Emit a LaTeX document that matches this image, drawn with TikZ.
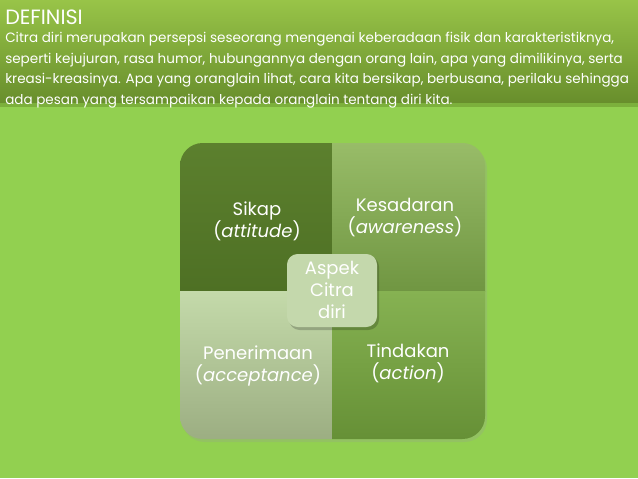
\documentclass[tikz,border=0pt]{standalone}
\usepackage{fontspec}
\setmainfont{Poppins}
\usetikzlibrary{positioning,shadows}
\definecolor{slidegreen}{RGB}{146,208,80}
\definecolor{headtop}{RGB}{152,196,72}
\definecolor{headbottom}{RGB}{104,142,44}
\definecolor{headedge}{RGB}{124,176,60}
\definecolor{sikaptop}{RGB}{92,128,46}
\definecolor{sikapbottom}{RGB}{78,112,36}
\definecolor{sadartop}{RGB}{152,188,104}
\definecolor{sadarbottom}{RGB}{112,150,66}
\definecolor{terimatop}{RGB}{196,218,170}
\definecolor{terimabottom}{RGB}{156,174,130}
\definecolor{tindaktop}{RGB}{134,178,82}
\definecolor{tindakbottom}{RGB}{102,144,54}
\definecolor{aspekfill}{RGB}{196,216,172}
\newcommand{\aspekcell}[6]{%
  \shade[top color=#5, bottom color=#6] (#1,#2) rectangle (#3,#4);}
\tikzset{
  celltext/.style={text=white, align=center, font=\fontsize{13.5}{16.5}\selectfont},
}

\begin{document}
\begin{tikzpicture}[x=0.75pt, y=-0.75pt]
  \useasboundingbox (0,0) rectangle (638,478);
  \fill[slidegreen] (0,0) rectangle (638,478);
  \shade[top color=headtop, bottom color=headbottom] (0,0) rectangle (638,103);
  \fill[headedge] (0,103) rectangle (638,107);
  \node[anchor=base west, text=white, inner sep=0pt, font=\fontsize{15.5}{18}\selectfont]
    (judul) at (5,25) {DEFINISI};
  \node[anchor=north west, text=white, inner sep=0pt, align=left,
        font=\fontsize{10.15}{15.4}\selectfont] (isi) at (5,32)
    {Citra diri merupakan persepsi seseorang mengenai keberadaan fisik dan karakteristiknya,\\
     seperti kejujuran, rasa humor, hubungannya dengan orang lain, apa yang dimilikinya, serta\\
     kreasi-kreasinya. Apa yang oranglain lihat, cara kita bersikap, berbusana, perilaku sehingga\\
     ada pesan yang tersampaikan kepada oranglain tentang diri kita.};
  % kotak empat aspek
  \fill[black!40, opacity=0.25, rounded corners=17pt] (182,146) rectangle (487,442);
  \begin{scope}
    \clip[rounded corners=17pt] (180,143) rectangle (485,439);
    \aspekcell{180}{143}{332}{291}{sikaptop}{sikapbottom}
    \aspekcell{332}{143}{485}{291}{sadartop}{sadarbottom}
    \aspekcell{180}{291}{332}{439}{terimatop}{terimabottom}
    \aspekcell{332}{291}{485}{439}{tindaktop}{tindakbottom}
  \end{scope}
  \node[celltext] (sikap) at (257,221) {Sikap\\(\textit{attitude})};
  \node[celltext] (sadar) at (405,218) {Kesadaran\\(\textit{awareness})};
  \node[celltext] (terima) at (258,366) {Penerimaan\\(\textit{acceptance})};
  \node[celltext] (tindak) at (408,363) {Tindakan\\(\textit{action})};
  \fill[black, opacity=0.2, rounded corners=8pt] (289,256) rectangle (379,330);
  \fill[aspekfill, rounded corners=8pt] (287,254) rectangle (377,327);
  \node[celltext] (aspek) at (332,290) {Aspek\\Citra\\diri};
\end{tikzpicture}
\end{document}
